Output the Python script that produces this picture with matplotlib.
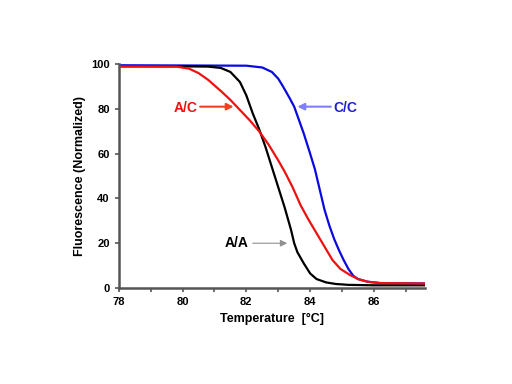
import numpy as np
import matplotlib.pyplot as plt

plt.rcParams['font.family'] = ['Liberation Sans', 'DejaVu Sans']
plt.rcParams['font.weight'] = 'bold'

# melting curves
aa_temp = [78.0, 80.0, 80.8, 81.2, 81.5, 81.8, 82.0, 82.2, 82.4, 82.6, 82.8, 83.0, 83.2, 83.4, 83.5,
           83.6, 83.8, 84.0, 84.2, 84.5, 84.8, 85.2, 86.0, 87.6]
aa_fluo = [99, 99, 98.9, 98.3, 96.5, 92, 86, 78, 71, 63, 54, 45, 36, 26, 20,
           16, 11, 6.5, 4, 2.5, 1.8, 1.4, 1.2, 1.2]

ac_temp = [78.0, 79.8, 80.2, 80.5, 80.8, 81.2, 81.5, 81.8, 82.1, 82.4, 82.7, 83.0, 83.2, 83.45,
           83.7, 83.95, 84.2, 84.45, 84.7, 84.95, 85.25, 85.5, 85.8, 86.2, 87.6]
ac_fluo = [99, 98.9, 98, 96, 93, 88, 84, 79.5, 75, 70, 64, 57, 52, 45,
           37, 30.5, 24.5, 18.5, 12.5, 8.5, 5.8, 4, 2.8, 2.2, 2.0]

cc_temp = [78.0, 82.0, 82.5, 82.8, 83.0, 83.15, 83.35, 83.5, 83.65, 83.8, 84.0, 84.15, 84.3, 84.45,
           84.6, 84.75, 84.9, 85.05, 85.2, 85.35, 85.5, 85.8, 86.2, 87.6]
cc_fluo = [99.5, 99.3, 98.5, 96.5, 93.5, 90, 85, 81, 75, 69, 60, 53, 44, 35,
           28, 22, 17, 12.5, 8.5, 5.5, 4, 2.8, 2.2, 2.0]

fig = plt.figure(figsize=(5.12, 3.84), dpi=100)
ax = fig.add_axes([0.232, 0.25, 0.598, 0.583])

ax.plot(cc_temp, cc_fluo, color='#0a0ae0', lw=1.6)
ax.plot(aa_temp, aa_fluo, color='black', lw=1.6)
ax.plot(ac_temp, ac_fluo, color='#f01010', lw=1.6)

# labels and arrows
ax.text(80.1, 80.5, 'A/C', color='#f01010', fontsize=10, ha='center', va='center')
ax.annotate('', xy=(81.6, 81), xytext=(80.55, 81),
            arrowprops=dict(arrowstyle='-|>', color='#f04020', lw=1.5, shrinkA=0, shrinkB=0))
ax.text(85.1, 80.5, 'C/C', color='#2020d0', fontsize=10, ha='center', va='center')
ax.annotate('', xy=(83.6, 81), xytext=(84.65, 81),
            arrowprops=dict(arrowstyle='-|>', color='#8080f0', lw=1.5, shrinkA=0, shrinkB=0))
ax.text(81.7, 20, 'A/A', color='black', fontsize=10, ha='center', va='center')
ax.annotate('', xy=(83.28, 20), xytext=(82.2, 20),
            arrowprops=dict(arrowstyle='-|>', color='#909090', lw=0.8, shrinkA=0, shrinkB=0))

ax.set_xlim(78, 87.6)
ax.set_ylim(0, 100)
ax.set_xticks([78, 80, 82, 84, 86])
ax.set_xticks([79, 81, 83, 85, 87], minor=True)
ax.set_yticks([0, 20, 40, 60, 80, 100])
ax.spines['top'].set_visible(False)
ax.spines['right'].set_visible(False)
for s in ['left', 'bottom']:
    ax.spines[s].set_linewidth(1.8)
    ax.spines[s].set_color('#555555')
ax.tick_params(which='both', length=3, width=1.2, color='#555555', labelsize=8)
ax.set_xlabel('Temperature  [°C]', fontsize=9, fontweight='bold')
ax.set_ylabel('Fluorescence (Normalized)', fontsize=9, fontweight='bold')

fig.savefig('out.png', dpi=100)
